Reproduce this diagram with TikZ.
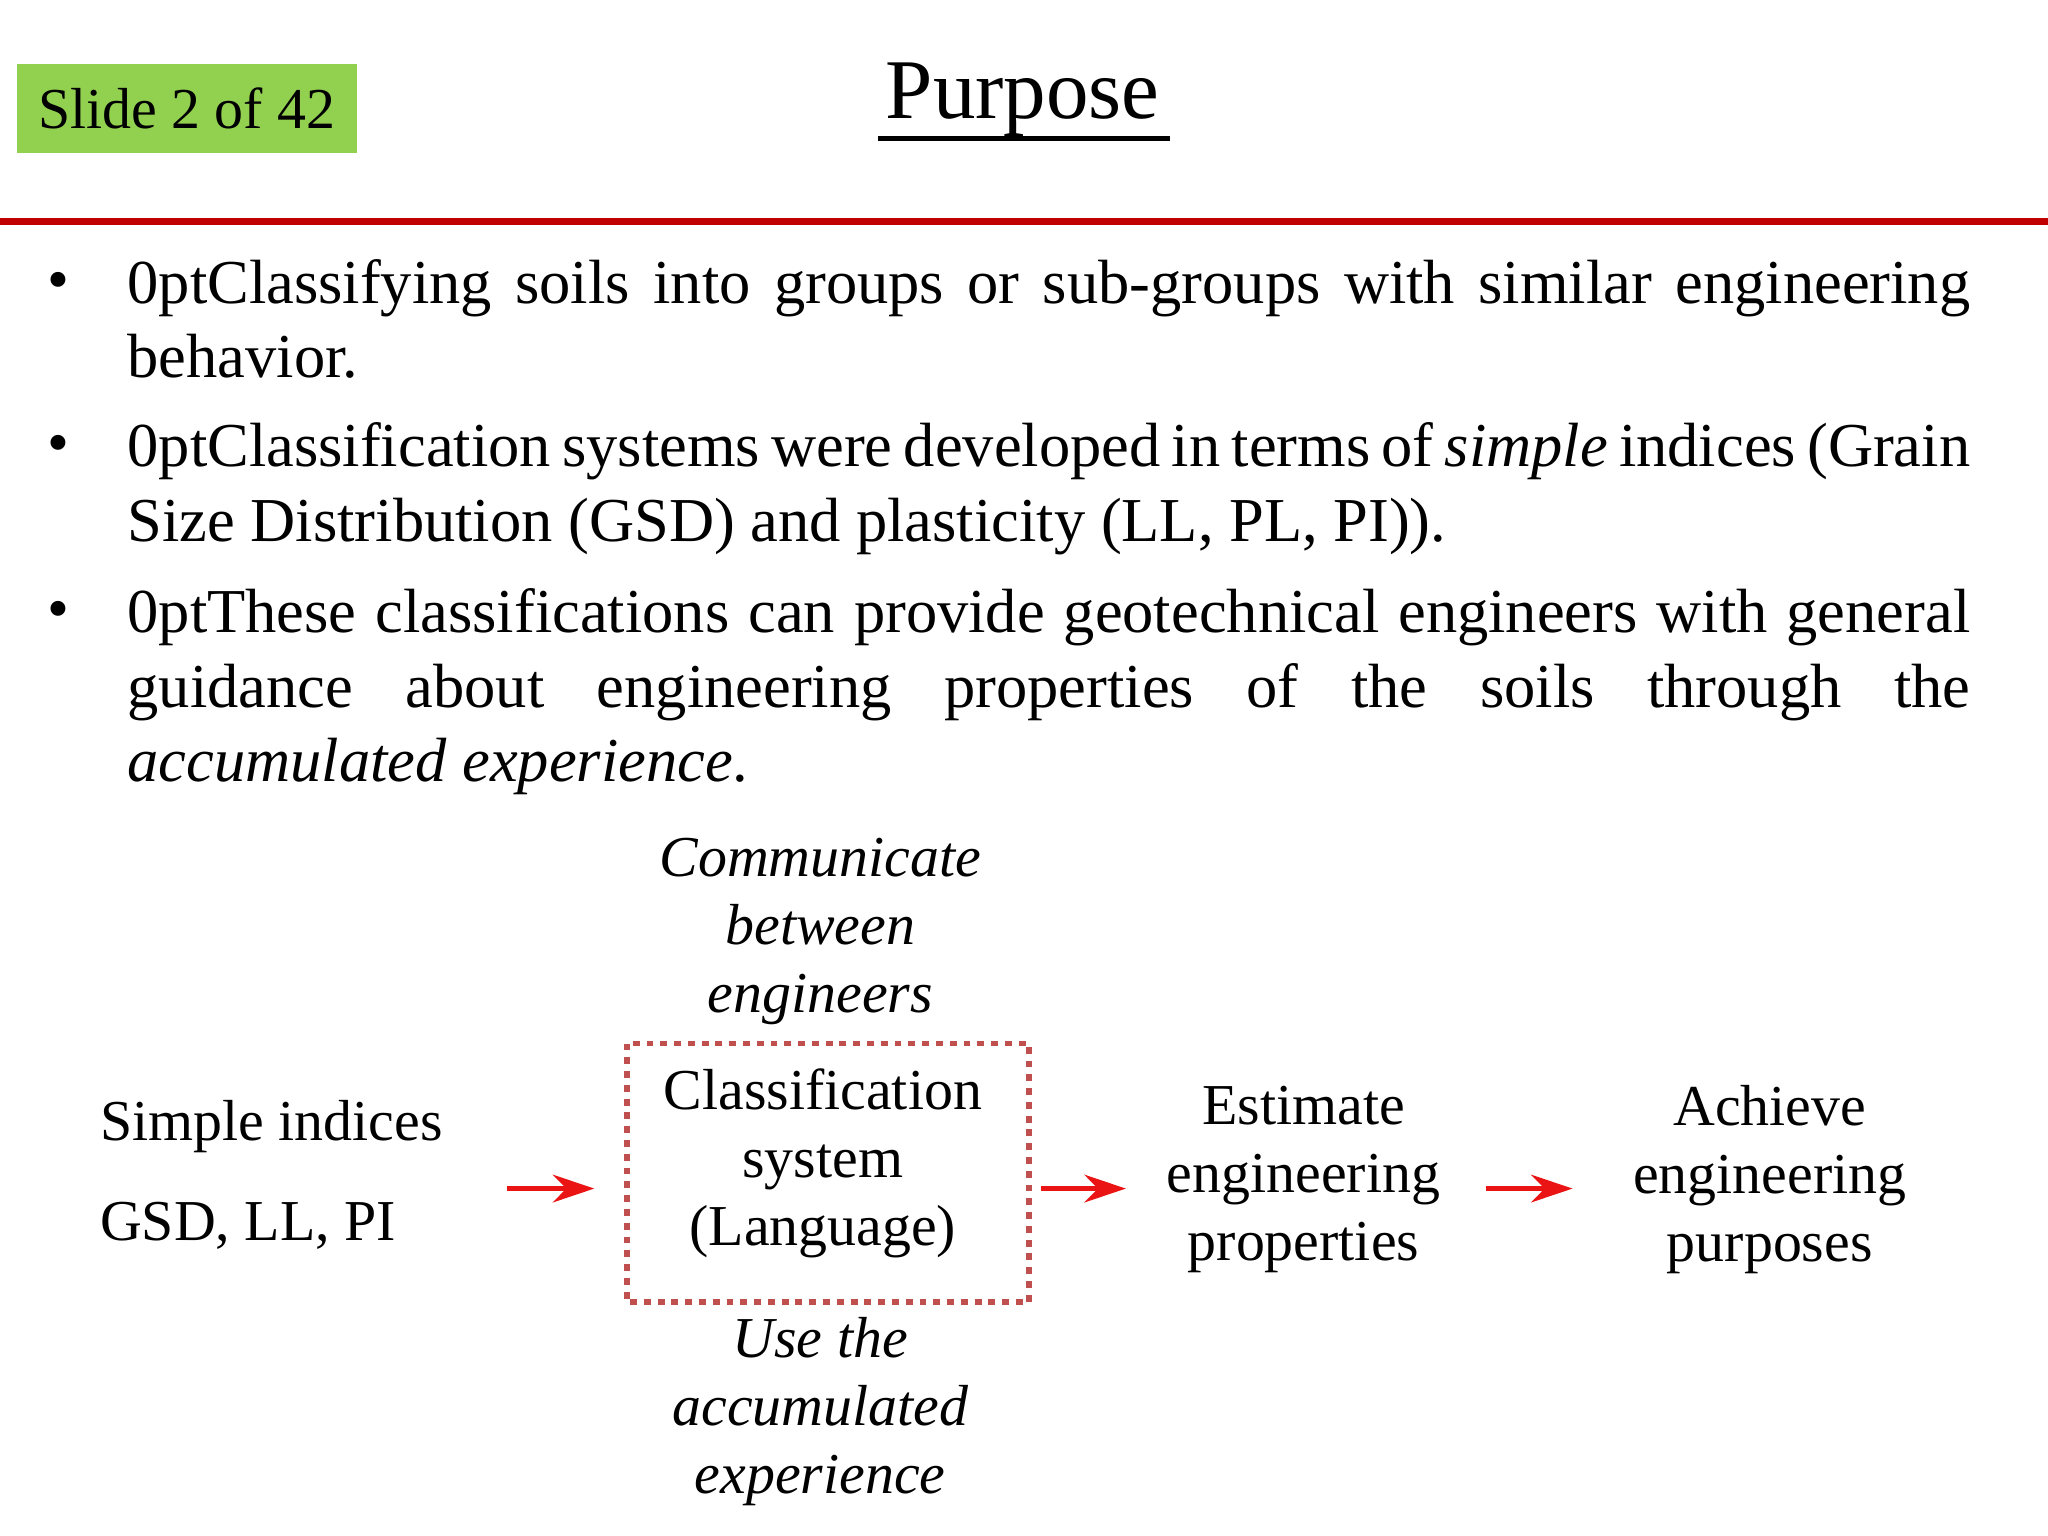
\documentclass[tikz,border=0pt]{standalone}
\usepackage{fontspec}
\setmainfont{Liberation Serif}
\usetikzlibrary{arrows.meta}
\definecolor{slidegreen}{RGB}{146,208,80}
\definecolor{barred}{RGB}{192,0,0}
\definecolor{arrred}{RGB}{235,20,20}
\definecolor{dotred}{RGB}{192,80,77}
\begin{document}
\begin{tikzpicture}[x=0.01cm,y=-0.01cm,
  bul/.style={anchor=north west,inner sep=0pt,text width=14.1cm,align=justify,font=\fontsize{13.6}{16.2}\selectfont\hyphenpenalty=10000\exhyphenpenalty=10000},
  dot/.style={anchor=base,inner sep=0pt,font=\fontsize{13.6}{16.2}\selectfont},
  lbl/.style={align=center,inner sep=0pt,font=\fontsize{12.6}{14.8}\selectfont},
  ilbl/.style={lbl,font=\fontsize{12.6}{14.8}\selectfont\itshape},
  arr/.style={-{Stealth[length=9pt,width=6pt]},arrred,line width=1.2pt}]
\fill[white] (0,0) rectangle (1568,1176);
\node[fill=slidegreen,minimum width=2.6cm,minimum height=0.68cm,inner sep=0pt,font=\fontsize{12.6}{15}\selectfont] (slide) at (143,83) {Slide 2 of 42};
\node[font=\fontsize{18.5}{22}\selectfont,inner sep=0pt] (title) at (783,76) {Purpose};
\fill[black] (672,104) rectangle (896,108);
\fill[barred] (0,167) rectangle (1568,172);
\node[dot] (d1) at (45,230) {•};
\node[dot] (d2) at (45,355) {•};
\node[dot] (d3) at (45,482) {•};
\node[bul] (b1) at (97,198) {Classifying soils into groups or sub-groups with similar engineering\linebreak behavior.};
\node[bul] (b2) at (97,323) {Classification systems were developed in terms of \textit{simple} indices (Grain\linebreak Size Distribution (GSD) and plasticity (LL, PL, PI)).};
\node[bul] (b3) at (97,450) {These classifications can provide geotechnical engineers with general\linebreak guidance about engineering properties of the soils through the\linebreak \textit{accumulated experience}.};
\node[lbl,anchor=base west] (s1) at (76,873) {Simple indices};
\node[lbl,anchor=base west] (s2) at (76,950) {GSD, LL, PI};
\draw[dotred,line width=1.2pt,dash pattern=on 1.5pt off 1.5pt] (480,799) rectangle (788,997);
\node[lbl] (cls) at (630,891) {Classification\\system\\(Language)};
\node[ilbl] (comm) at (628,713) {Communicate\\between\\engineers};
\node[ilbl] (use) at (628,1081) {Use the\\accumulated\\experience};
\node[lbl] (est) at (998,903) {Estimate\\engineering\\properties};
\node[lbl] (ach) at (1355,903) {Achieve\\engineering\\purposes};
\coordinate (a1s) at (388,910); \coordinate (a1e) at (455,910);
\coordinate (a2s) at (797,910); \coordinate (a2e) at (862,910);
\coordinate (a3s) at (1138,910); \coordinate (a3e) at (1204,910);
\draw[arr] (a1s) -- (a1e);
\draw[arr] (a2s) -- (a2e);
\draw[arr] (a3s) -- (a3e);
\end{tikzpicture}
\end{document}
